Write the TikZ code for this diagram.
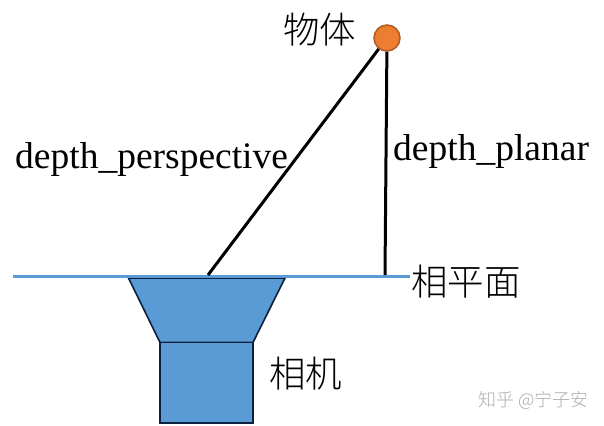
\documentclass[tikz,border=0pt]{standalone}
\usepackage{fontspec}
\setmainfont{Liberation Serif}
\newfontfamily\cjk{Noto Sans CJK SC Light}
\definecolor{blue1}{HTML}{5B9BD5}
\definecolor{navy}{HTML}{0B1F3F}
\definecolor{org}{HTML}{ED7D31}
\definecolor{orgb}{HTML}{AE5A21}
\begin{document}
\begin{tikzpicture}[x=1pt,y=-1pt,
 lbl/.style={inner sep=0pt,anchor=west,font=\fontsize{37.5}{40}\selectfont,text=black},
 cn/.style={inner sep=0pt,anchor=west,font=\cjk\fontsize{36.5}{40}\selectfont,text=black},
 wm/.style={inner sep=0pt,anchor=west,font=\cjk\fontsize{18}{20}\selectfont,text=black!32},
 ray/.style={draw=black,line width=3pt},
 blk/.style={fill=blue1,draw=navy,line width=1.6pt}]
\useasboundingbox (0,0) rectangle (604,425);
\fill[white] (0,0) rectangle (604,425);
\path[blk] (128.5,278) -- (285,278) -- (253,342.5) -- (160,342.5) -- cycle;
\path[blk] (160,342.5) rectangle (253,423);
\coordinate (planeL) at (13,276);
\coordinate (planeR) at (410,276);
\draw[blue1,line width=3pt] (planeL) -- (planeR);
\coordinate (f1) at (208,275);
\coordinate (f2) at (385,275);
\node[circle,fill=org,draw=orgb,line width=1.5pt,minimum size=26pt,inner sep=0pt] (obj) at (387,38) {};
\draw[ray] (f1) -- (obj);
\draw[ray] (f2) -- (obj);
\node[cn] (t1) at (283,30) {物体};
\node[lbl] (t2) at (15,159) {depth\_perspective};
\node[lbl] (t3) at (393,151) {depth\_planar};
\node[cn] (t4) at (411,282) {相平面};
\node[cn] (t5) at (269,374) {相机};
\node[wm] (t6) at (478,400) {知乎 @宁子安};
\end{tikzpicture}
\end{document}
